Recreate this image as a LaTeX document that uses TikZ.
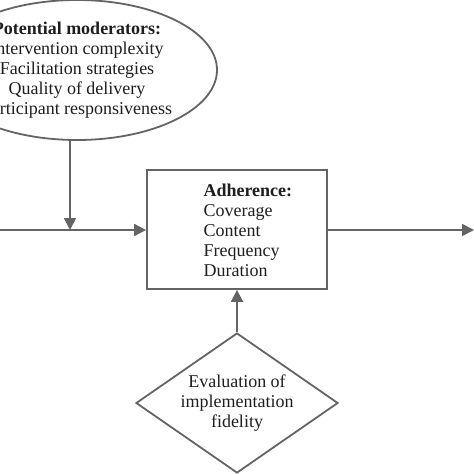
\documentclass[tikz,border=0pt]{standalone}
\usepackage{fontspec}
\setmainfont{Liberation Serif}
\usetikzlibrary{shapes.geometric,arrows.meta,positioning}
\definecolor{linegray}{RGB}{100,100,100}
\definecolor{textgray}{RGB}{30,30,30}

\begin{document}
\begin{tikzpicture}[
    x=1pt, y=-1pt,
    every node/.style={font=\fontsize{18}{20}\selectfont, text=textgray},
    moderator/.style={ellipse, draw=linegray, line width=1.8pt, minimum width=280pt, minimum height=140pt, inner sep=0pt, align=center},
    block/.style={rectangle, draw=linegray, line width=1.8pt, minimum width=180pt, minimum height=119pt},
    check/.style={diamond, draw=linegray, line width=1.8pt, aspect=1.443, minimum width=202pt, minimum height=140pt, inner sep=0pt, align=center},
    arrow/.style={draw=linegray, line width=1.8pt, -{Triangle[length=12pt,width=12pt]}}
]
    \useasboundingbox (0,0) rectangle (474,474);
    \clip (0,0) rectangle (474,474);

    \node[moderator] (M) at (77, 70) {\textbf{Potential moderators:}\\Intervention complexity\\Facilitation strategies\\Quality of delivery\\Participant responsiveness};
    \node[block] (A) at (237, 229.5) {};
    \node[anchor=west, align=left] (AT) at (200, 230) {\textbf{Adherence:}\\Coverage\\Content\\Frequency\\Duration};
    \node[check] (E) at (237, 403) {Evaluation of\\implementation\\fidelity};

    \coordinate (in) at (-5, 230);
    \coordinate (join) at (70, 230);
    \coordinate (out) at (474, 230);

    \draw[arrow] (in) -- (in -| A.west);
    \draw[arrow] (M.south -| join) -- (join);
    \draw[arrow] (A.east |- out) -- (out);
    \draw[arrow] (E.north) -- (A.south);

\end{tikzpicture}
\end{document}
